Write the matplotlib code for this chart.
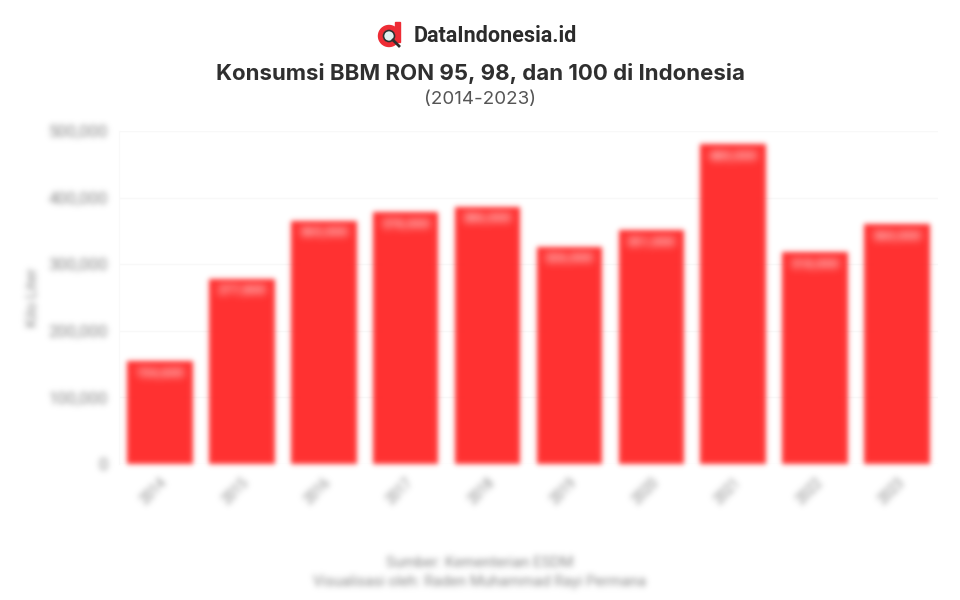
import matplotlib

matplotlib.use("Agg")

import matplotlib.pyplot as plt
import numpy as np
from matplotlib.patches import Circle, Rectangle, Wedge

years = ["2014", "2015", "2016", "2017", "2018", "2019", "2020", "2021", "2022", "2023"]
konsumsi = [154600, 277800, 365000, 378000, 386000, 326000, 351000, 480000, 318000, 360000]
y_ticks = [0, 100000, 200000, 300000, 400000, 500000]

RED = "#ff3131"
GREY = "#858585"


def make_blur(sigma):
    """Gaussian blur for agg_filter, done on premultiplied colours."""

    def blur(img, dpi):
        pad = int(sigma * 4)
        img = np.pad(img, ((pad, pad), (pad, pad), (0, 0)))
        alpha = img[..., 3:].copy()
        out = np.concatenate([img[..., :3] * alpha, alpha], axis=2)
        offs = np.arange(-pad, pad + 1)
        weights = np.exp(-(offs**2) / (2 * sigma**2))
        weights /= weights.sum()
        for axis in (0, 1):
            out = sum(w * np.roll(out, o, axis=axis) for o, w in zip(offs, weights))
        a = np.clip(out[..., 3:], 1e-6, 1)
        out = np.concatenate([np.clip(out[..., :3] / a, 0, 1), a], axis=2)
        return out, -pad, -pad

    return blur


bar_blur = make_blur(2.6)
text_blur = make_blur(3.0)

plt.rcParams["font.family"] = ["Roboto", "DejaVu Sans"]
fig = plt.figure(figsize=(9.6, 6), dpi=100, facecolor="white")
ax = fig.add_axes([119 / 960, 1 - 464 / 600, 819 / 960, 333 / 600])

x = np.arange(len(years))
bars = ax.bar(x, konsumsi, width=0.8, color=RED, zorder=3)
for rect, val in zip(bars, konsumsi):
    rect.set_agg_filter(bar_blur)
    t = ax.annotate(f"{val:,}", (rect.get_x() + rect.get_width() / 2, val), xytext=(0, -8),
                    textcoords="offset points", ha="center", va="center",
                    fontsize=9.5, fontweight="bold", color="#ffe4e4", zorder=4)
    t.set_agg_filter(text_blur)

ax.set_xlim(-0.5, len(years) - 0.5)
ax.set_ylim(0, 500000)
ax.set_xticks(x)
ax.set_xticklabels(years, rotation=45, ha="right", rotation_mode="anchor", fontsize=10, color=GREY)
ax.set_yticks(y_ticks)
ax.set_yticklabels([f"{v:,}" for v in y_ticks], fontsize=12, color=GREY)
ax.tick_params(length=0, pad=8)
ax.grid(axis="y", color="#f8f8f8", linewidth=1, zorder=0)
for side in ["top", "right", "bottom"]:
    ax.spines[side].set_visible(False)
ax.spines["left"].set_color("#f9f9f9")
ax.set_axisbelow(True)
ax.set_ylabel("Kilo Liter", fontsize=11, color=GREY, labelpad=6)
ax.yaxis.label.set_agg_filter(text_blur)
for lab in ax.get_xticklabels() + ax.get_yticklabels():
    lab.set_agg_filter(text_blur)

# header
fig.text(495 / 960, 1 - 36 / 600, "DataIndonesia.id", ha="center", va="center",
         fontsize=15.5, fontweight="bold", color="#2b2b2b")
fig.text(480 / 960, 1 - 74 / 600, "Konsumsi BBM RON 95, 98, dan 100 di Indonesia", ha="center", va="center",
         fontsize=16, fontweight="bold", color="#2f2f2f", family=["Inter", "DejaVu Sans"])
fig.text(480 / 960, 1 - 100 / 600, "(2014-2023)", ha="center", va="center",
         fontsize=13.5, color="#555555", family=["Inter", "DejaVu Sans"])

# logo
logo = fig.add_axes([373 / 960, 1 - 52 / 600, 34 / 960, 34 / 600])
logo.set_xlim(0, 34)
logo.set_ylim(34, 0)
logo.axis("off")
logo.add_patch(Wedge((16, 18), 10.5, 0, 360, width=4, color="#ee2c35"))
logo.add_patch(Rectangle((22, 4), 5, 20, color="#ee2c35"))
logo.add_patch(Circle((16, 18), 5.5, facecolor="#dff0f0", edgecolor="#2f2f2f", linewidth=1.2))
logo.plot([20, 26], [22, 28], color="#2f2f2f", linewidth=2)

# footer
for y_px, line in [(563, "Sumber: Kementerian ESDM"), (582, "Visualisasi oleh: Raden Muhammad Rayi Permana")]:
    t = fig.text(480 / 960, 1 - y_px / 600, line, ha="center", va="center", fontsize=10.8, color=GREY)
    t.set_agg_filter(text_blur)

fig.savefig("out.png", dpi=100)
